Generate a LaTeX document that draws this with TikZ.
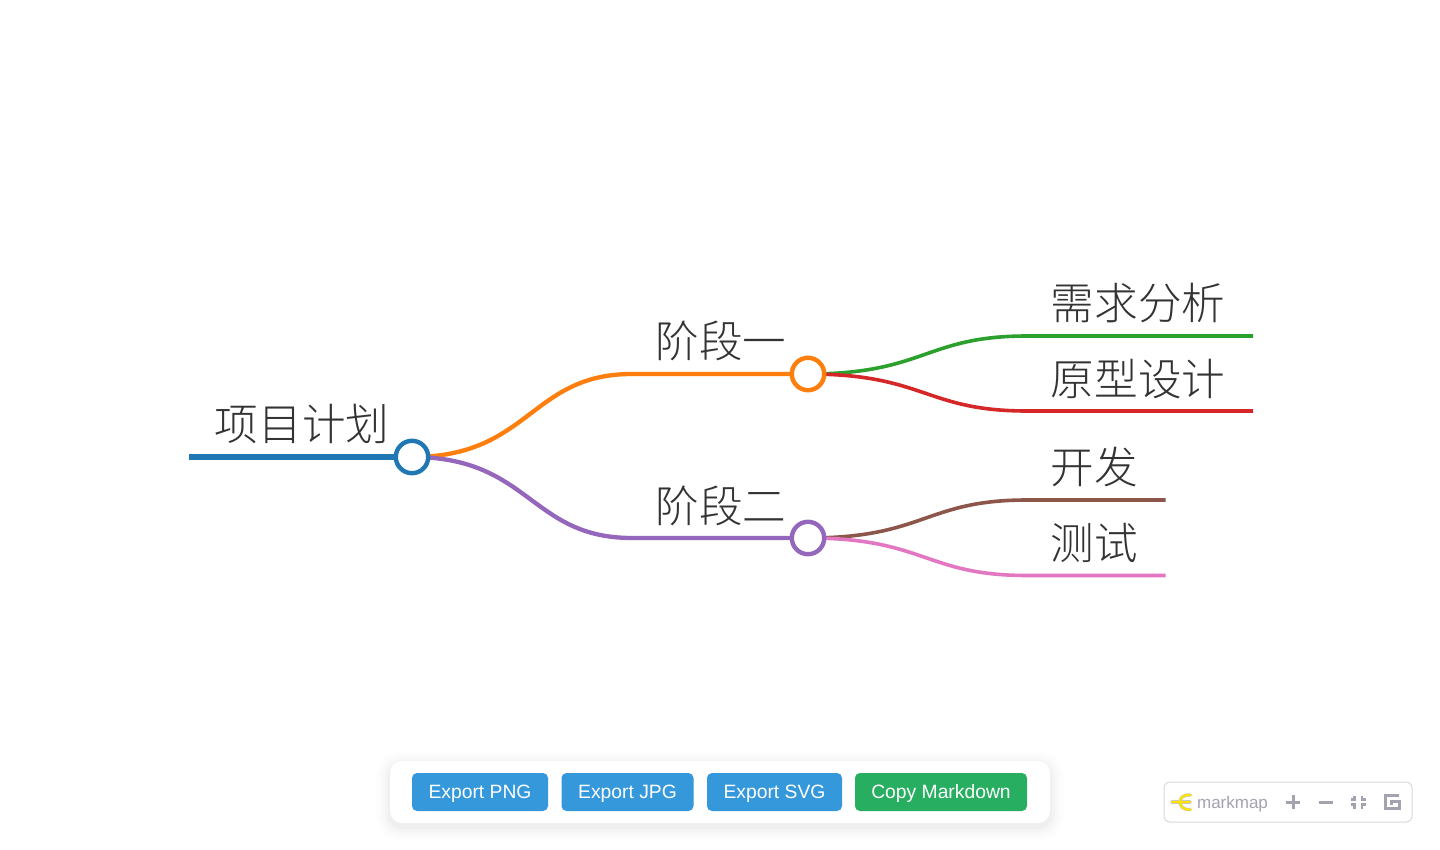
\documentclass[tikz,border=0pt]{standalone}
\usepackage{fontspec}
\setmainfont{Liberation Sans}
\newfontfamily\cjk{Noto Sans CJK SC Light}
\definecolor{cA}{HTML}{1F77B4}
\definecolor{cB}{HTML}{FF7F0E}
\definecolor{cC}{HTML}{2CA02C}
\definecolor{cD}{HTML}{D62728}
\definecolor{cE}{HTML}{9467BD}
\definecolor{cF}{HTML}{8C564B}
\definecolor{cG}{HTML}{E377C2}
\definecolor{btnblue}{HTML}{3498DB}
\definecolor{btngreen}{HTML}{27AE60}
\definecolor{txt}{HTML}{333333}
\definecolor{tool}{HTML}{A3A3B0}
\begin{document}
\begin{tikzpicture}[x=0.5pt,y=-0.5pt,
  lab/.style={font=\cjk\fontsize{21.8}{24}\selectfont,text=txt,inner sep=0pt,anchor=center},
  dot/.style={circle,draw=#1,fill=white,line width=2.2pt,minimum size=16.2pt,inner sep=0pt},
  btn/.style={rounded corners=2.5pt,fill=#1,text=white,font=\fontsize{9.65}{11}\selectfont,text height=7.5pt,text depth=1.5pt,minimum height=19pt,inner sep=0pt},
  tl/.style={draw=tool,line width=1.5pt},
  lk/.style={line width=2.15pt},
  lkb/.style={line width=1.8pt}]
\useasboundingbox (0,0) rectangle (1440,850);
\fill[white] (0,0) rectangle (1440,850);
% links
\coordinate (rs) at (189,457);
\coordinate (rc) at (412,457);
\coordinate (a1) at (632,374);
\coordinate (a2) at (808,374);
\coordinate (b1) at (632,538);
\coordinate (b2) at (808,538);
\coordinate (p1) at (1027,336);
\coordinate (p1e) at (1253,336);
\coordinate (p2) at (1027,411);
\coordinate (p2e) at (1253,411);
\coordinate (p3) at (1027,500);
\coordinate (p3e) at (1165.5,500);
\coordinate (p4) at (1027,575.5);
\coordinate (p4e) at (1165.5,575.5);
\draw[cA,line width=3.1pt] (rs) -- (rc);
\draw[cB,lk] (rc) .. controls (530,457) and (530,374) .. (a1) -- (a2);
\draw[cE,lk] (rc) .. controls (530,457) and (530,538) .. (b1) -- (b2);
\draw[cC,lkb] (a2) .. controls (925,374) and (925,336) .. (p1) -- (p1e);
\draw[cD,lkb] (a2) .. controls (925,374) and (925,411) .. (p2) -- (p2e);
\draw[cF,lkb] (b2) .. controls (925,538) and (925,500) .. (p3) -- (p3e);
\draw[cG,lkb] (b2) .. controls (925,538) and (925,575.5) .. (p4) -- (p4e);
\node[dot=cA] (n0) at (rc) {};
\node[dot=cB] (n1) at (a2) {};
\node[dot=cE] (n2) at (b2) {};
% labels
\node[lab] (t0) at (302,423.5) {项目计划};
\node[lab] (t1) at (721,341) {阶段一};
\node[lab] (t2) at (721,505.5) {阶段二};
\node[lab] (t3) at (1138,303) {需求分析};
\node[lab] (t4) at (1138,379.5) {原型设计};
\node[lab] (t5) at (1094,466.5) {开发};
\node[lab] (t6) at (1094,542.5) {测试};
% panel
\foreach \g/\o in {14/0.006,11/0.008,8/0.01,5/0.014,2/0.02}{
  \fill[black,opacity=\o,rounded corners=6pt+\g*0.5pt] (390-\g,761-\g+4) rectangle (1050+\g,823+\g+4);
}
\node[rounded corners=6pt,fill=white,minimum width=330pt,minimum height=31pt,inner sep=0pt] (panel) at (720,792) {};
\node[btn=btnblue,minimum width=68pt] (b-png) at (480,792) {Export PNG};
\node[btn=btnblue,minimum width=66pt] (b-jpg) at (627.5,792) {Export JPG};
\node[btn=btnblue,minimum width=67.5pt] (b-svg) at (774.5,792) {Export SVG};
\node[btn=btngreen,minimum width=86pt] (b-md) at (941,792) {Copy Markdown};
% toolbar
\node[draw=black!15,line width=0.5pt,rounded corners=3pt,fill=white,minimum width=124pt,minimum height=20pt,inner sep=0pt] (toolbar) at (1288,802) {};
\node[inner sep=0pt,text=tool,font=\fontsize{8.5}{10}\selectfont] (brand) at (1232.5,804) {markmap};
% logo
\draw[black!22,line width=1.6pt,line cap=round] (1172,802) -- (1190,802);
\draw[black!22,line width=1.6pt,line cap=round] (1190.5,795) .. controls (1183,794.5) and (1180,798) .. (1180,802) .. controls (1180,806) and (1183,810) .. (1190.5,809.5);
\draw[yellow!85!orange,line width=1.1pt,line cap=round] (1172,802) -- (1190,802);
\draw[yellow!85!orange,line width=1.1pt,line cap=round] (1190.5,795) .. controls (1183,794.5) and (1180,798) .. (1180,802) .. controls (1180,806) and (1183,810) .. (1190.5,809.5);
% plus
\draw[tl] (1286,802) -- (1300,802) (1293,795) -- (1293,809);
% minus
\draw[tl] (1319,802) -- (1333,802);
% fit
\draw[tl,line width=1.3pt] (1354.5,795.5) -- (1354.5,799.5) -- (1350.5,799.5)
  (1362,795.5) -- (1362,799.5) -- (1366,799.5)
  (1350.5,804.5) -- (1354.5,804.5) -- (1354.5,808.5)
  (1366,804.5) -- (1362,804.5) -- (1362,808.5);
% spiral
\draw[tl] (1399,795.5) -- (1385,795.5) -- (1385,808.5) -- (1399,808.5) -- (1399,801) -- (1391.5,801) -- (1391.5,804.5);
\end{tikzpicture}
\end{document}
